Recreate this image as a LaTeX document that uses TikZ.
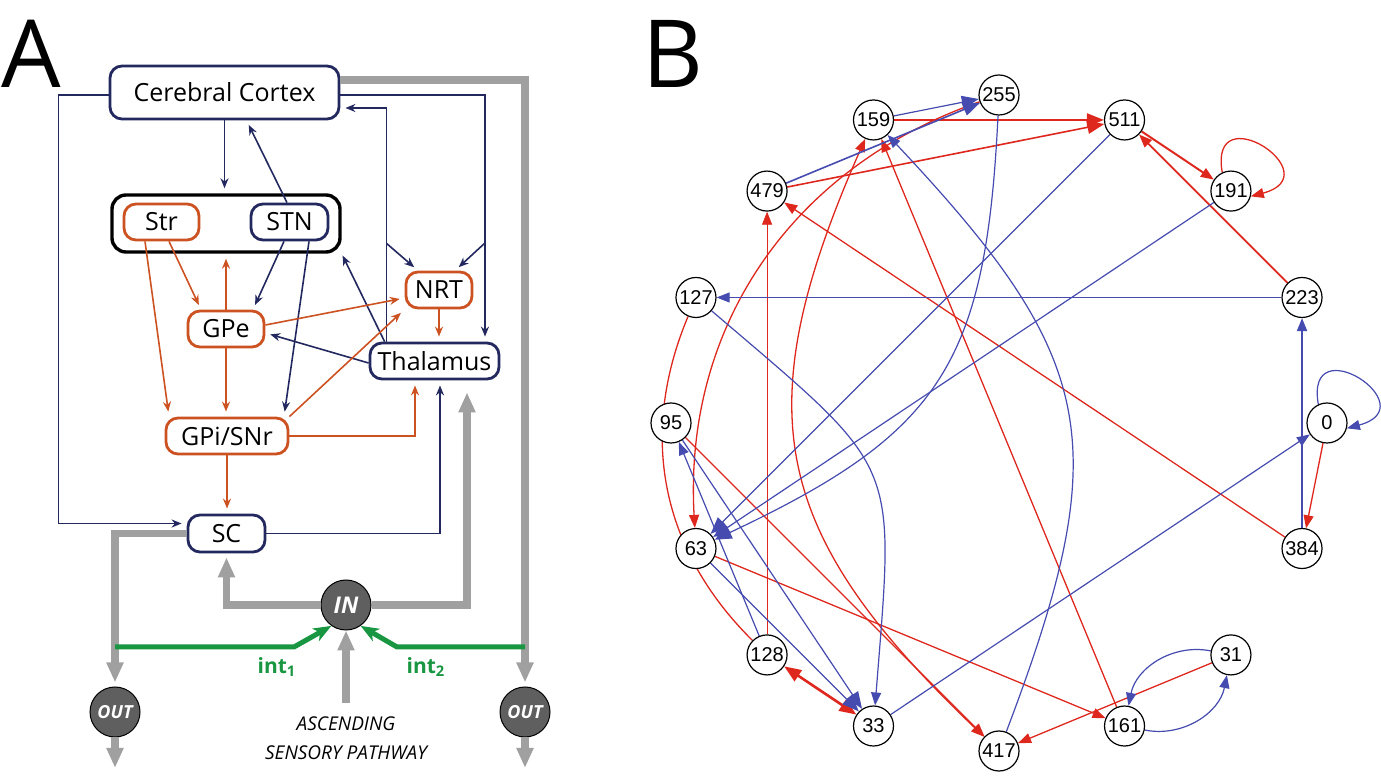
\documentclass[tikz,border=0pt]{standalone}
\usepackage{fontspec}
\setmainfont{Open Sans}
\newfontfamily\numfont{Liberation Sans}
\usetikzlibrary{arrows.meta,calc,backgrounds}
\definecolor{NavyLine}{RGB}{35,40,95}
\definecolor{OrangeLine}{RGB}{204,82,34}
\definecolor{PathGray}{RGB}{160,160,160}
\definecolor{HubGray}{RGB}{95,95,95}
\definecolor{IntGreen}{RGB}{25,150,65}
\definecolor{NetRed}{RGB}{222,40,30}
\definecolor{NetBlue}{RGB}{70,75,175}

\begin{document}
\begin{tikzpicture}[x=0.5pt,y=-0.5pt,
box/.style={rectangle,rounded corners=6pt,draw=NavyLine,line width=1.4pt,fill=white,minimum height=18pt,inner sep=2pt,font=\fontsize{12.5}{15}\selectfont},
obox/.style={box,draw=OrangeLine},
grp/.style={rectangle,rounded corners=7pt,draw=black,line width=1.7pt,minimum width=114pt,minimum height=28.5pt},
hub/.style={circle,fill=HubGray,draw=black,line width=0.5pt,minimum size=25pt,inner sep=0pt,text=white},
nv/.style={draw=NavyLine,line width=0.8pt},
og/.style={draw=OrangeLine,line width=0.8pt},
arr/.style={-{Stealth[length=5pt,width=4pt]},shorten >=2.5pt},
gr/.style={draw=PathGray,line width=3.6pt,-{Triangle[length=10pt,width=8pt]},shorten >=2pt},
gn/.style={draw=IntGreen,line width=2.5pt,-{Stealth[length=9pt,width=7pt,inset=2.5pt]}},
num/.style={circle,draw=black,line width=0.6pt,fill=white,minimum size=20pt,inner sep=0pt,font=\numfont\fontsize{10}{11}\selectfont},
rd/.style={draw=NetRed,line width=0.65pt},
bl/.style={draw=NetBlue,line width=0.6pt},
headm/.style={-{Triangle[length=6.5pt,width=5pt]}},
headb/.style={-{Triangle[length=8.5pt,width=6.5pt]}},
dbl/.style={{Triangle[length=8.5pt,width=6.5pt]}-{Triangle[length=8.5pt,width=6.5pt]}},
dblm/.style={{Triangle[length=6.5pt,width=5pt]}-{Triangle[length=6.5pt,width=5pt]}}
]
\useasboundingbox (0,0) rectangle (1381,779);
% panel letters
\node[anchor=west,inner sep=0pt,font=\fontsize{47}{50}\selectfont] (labA) at (1,54) {A};
\node[anchor=west,inner sep=0pt,font=\fontsize{47}{50}\selectfont] (labB) at (642,54) {B};

% panel A boxes
\node[box,minimum width=114.5pt,minimum height=26.5pt] (cortex) at (224.5,92.5) {Cerebral Cortex};
\node[grp] (grp) at (226,223.5) {};
\node[obox,minimum width=37.5pt] (str) at (161.5,222) {Str};
\node[box,minimum width=38.5pt] (stn) at (289.5,222) {STN};
\node[obox,minimum width=38pt] (gpe) at (226,329) {GPe};
\node[obox,minimum width=33pt] (nrt) at (439,290) {NRT};
\node[box,minimum width=64.5pt] (thal) at (434.5,361) {Thalamus};
\node[obox,minimum width=61pt] (gpi) at (227,436) {GPi/SNr};
\node[box,minimum width=38.5pt,minimum height=18.5pt] (sc) at (226.5,533.5) {SC};
\node[hub,font=\fontsize{11.5}{13}\selectfont\bfseries\itshape] (in) at (346,605) {IN};
\node[hub,font=\fontsize{9}{11}\selectfont\bfseries\itshape] (outl) at (115,712) {OUT};
\node[hub,font=\fontsize{9}{11}\selectfont\bfseries\itshape] (outr) at (525,712) {OUT};
\node[align=center,font=\fontsize{9.5}{14.5}\selectfont\itshape] (asc) at (346,738) {ASCENDING\\SENSORY PATHWAY};
\node[text=IntGreen,font=\fontsize{10.5}{12}\selectfont\bfseries] (int1) at (277,667) {int\textsubscript{1}};
\node[text=IntGreen,font=\fontsize{10.5}{12}\selectfont\bfseries] (int2) at (426,667) {int\textsubscript{2}};
\coordinate (dl) at (115,768);
\coordinate (dr) at (525,768);
\coordinate (gl1) at (115,647);
\coordinate (gl2) at (525,647);

% gray pathways
\draw[gr] ([yshift=6.25pt]cortex.east) -| (outr);
\draw[gr] (sc.west) -| (outl);
\draw[gr] (in.west) -| (sc.south);
\draw[gr,shorten >=6pt] (in.east) -| ([xshift=16.25pt]thal.south);
\draw[gr,shorten >=0pt] ([yshift=3pt]asc.north) -- (in);
\draw[gr,shorten >=0pt] (outl) -- (dl);
\draw[gr,shorten >=0pt] (outr) -- (dr);
% internal loops
\draw[gn] (gl1) -- ++(179,0) -- (in.235);
\draw[gn] (gl2) -- ++(-128,0) -- (in.305);

% navy connections
\draw[nv,arr] ([yshift=-1.25pt]cortex.west) -- ++(-50,0) |- ([yshift=5pt]sc.west);
\draw[nv,arr] ([yshift=-1.25pt]cortex.east) -| coordinate[pos=0.8] (rb) ([xshift=25.25pt]thal.north);
\draw[nv,arr] ([xshift=9pt]thal.north west) |- coordinate[pos=0.21] (lb) ([yshift=-7.75pt]cortex.east);
\draw[nv,arr] (lb) -- ([xshift=-10.5pt]nrt.north);
\draw[nv,arr] (rb) -- ([xshift=8pt]nrt.north);
\draw[nv,arr] (cortex.south) -- (cortex.south |- grp.north);
\draw[nv,arr] ([xshift=-1.25pt]stn.north) -- ([xshift=11pt]cortex.south);
\draw[nv,arr] ([xshift=-2.75pt]stn.south) -- ([xshift=13.5pt]gpe.north);
\draw[nv,arr] ([xshift=9.75pt]stn.south) -- ([xshift=28.5pt]gpi.north);
\draw[nv,arr] ([yshift=-1pt]thal.west) -- ([yshift=-2pt]gpe.east);
\draw[nv,arr,shorten >=1pt] ([xshift=8pt]thal.north west) -- (grp.south east);
\draw[nv,arr] (sc.east) -| ([xshift=2.75pt]thal.south);
% orange connections
\draw[og,arr] ([xshift=-8.25pt]str.south) -- ([xshift=-29pt]gpi.north);
\draw[og,arr] ([xshift=3.75pt]str.south) -- ([xshift=-12.5pt]gpe.north);
\draw[og,arr] (gpe.north) -- (gpe.north |- grp.south);
\draw[og,arr] ([yshift=2pt]gpe.east) -- ([yshift=-4pt]nrt.west);
\draw[og,arr] (gpi.north east) -- (nrt.south west);
\draw[og,arr] (nrt.south) -- (nrt.south |- thal.north);
\draw[og,arr] (gpi.east) -| ([xshift=-9.75pt]thal.south);
\draw[og,arr] (gpe.south) -- (gpe.south |- gpi.north);
\draw[og,arr] (gpi.south) -- (gpi.south |- sc.north);

% panel B network
\coordinate (bc) at (999,423);
\foreach \n/\a in {0/0,223/22.5,191/45,511/67.5,255/90,159/112.5,479/135,127/157.5,95/180,63/202.5,128/225,33/247.5,417/270,161/292.5,31/315,384/337.5}
  \node[num] (n\n) at ($(bc)+(\a:164pt)$) {\n};
\begin{pgfonlayer}{background}
% red edges
\draw[rd,line width=1pt,headb] (n159) -- (n511);
\draw[rd,line width=0.8pt,headb] (n479) -- (n511);
\draw[rd,line width=1pt,headm] (n511) -- (n191);
\draw[rd,line width=0.9pt,headm] (n223) -- (n511);
\draw[rd,headm] (n191.115) .. controls +(100:40pt) and +(15:42pt) .. (n191.345);
\draw[rd,headm] (n255) to[bend right=37] (n63);
\draw[rd,dblm] (n159) to[bend right=35,looseness=1.25] (n417);
\draw[rd,headm] (n161) -- (n159);
\draw[rd,headm] (n384) -- (n479);
\draw[rd,line width=0.4pt,headm] (n128) -- (n479);
\draw[rd] (n127) to[bend right=34] (n128);
\draw[rd,headm] (n95) -- (n417);
\draw[rd,headm] (n63) -- (n161);
\draw[rd,headm] (n31) -- (n417);
\draw[rd,line width=1.3pt,dbl] (n128) -- (n33);
\draw[rd,headm] (n0) -- (n384);
% blue edges
\draw[bl,headb] (n159) -- (n255);
\draw[bl,line width=0.8pt,headb] (n479) -- (n255);
\draw[bl,line width=0.5pt,headm] (n223) -- (n127);
\draw[bl,headb] (n511) -- (n63);
\draw[bl,headb] (n191) -- (n63);
\draw[bl,headb] (n255) to[bend left=31,looseness=1.25] (n63);
\draw[bl,headm] (n417) to[bend right=32,looseness=1.3] (n159);
\draw[bl,headm] (n127) to[bend left=27,looseness=1.5] (n33);
\draw[bl,headb] (n95) -- (n33);
\draw[bl,headb] (n63) -- (n33);
\draw[bl,headm] (n128) -- (n95);
\draw[bl,headm] (n33) -- (n0);
\draw[bl,line width=1pt,headm] (n384) -- (n223);
\draw[bl,headm] (n0.115) .. controls +(100:40pt) and +(15:42pt) .. (n0.345);
\draw[bl,headm] (n31) to[bend right=45] (n161);
\draw[bl,headm] (n161) to[bend right=45] (n31);
\end{pgfonlayer}
\end{tikzpicture}
\end{document}
